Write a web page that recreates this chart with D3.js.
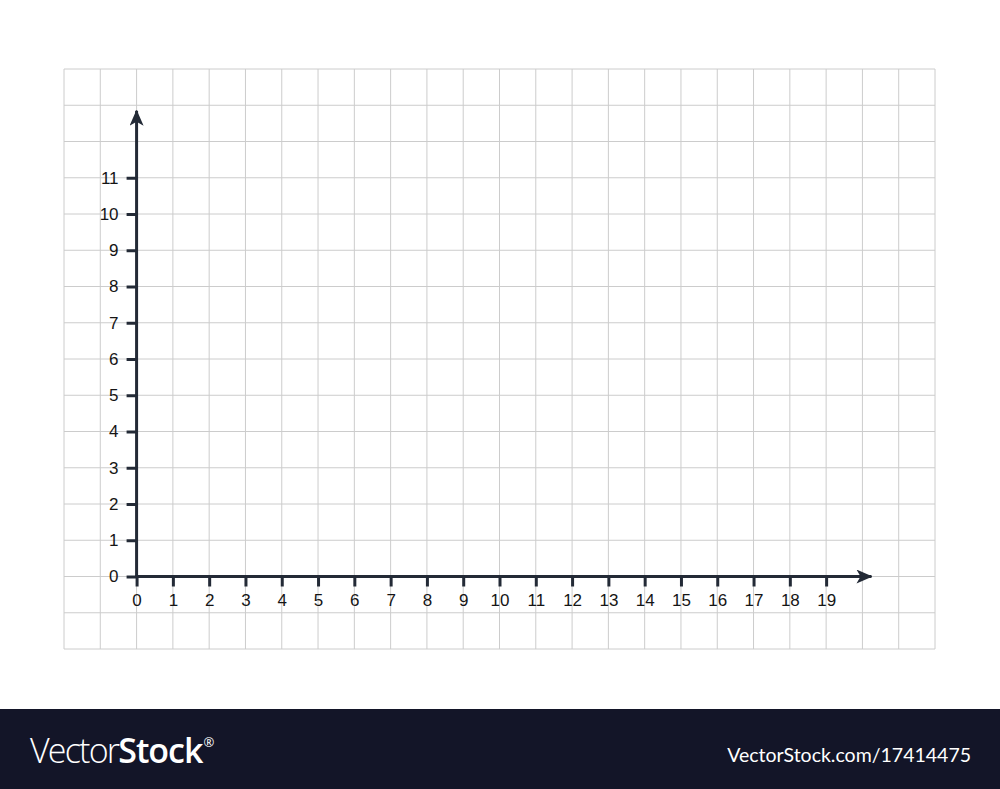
<!DOCTYPE html>
<html><head><meta charset="utf-8">
<script src="https://cdn.jsdelivr.net/npm/d3@7"></script>
<style>html,body{margin:0;padding:0;background:#fff;}svg{display:block;}</style>
</head><body>
<script>
// Data
const xTickValues = [0,1,2,3,4,5,6,7,8,9,10,11,12,13,14,15,16,17,18,19];
const yTickValues = [0,1,2,3,4,5,6,7,8,9,10,11];
const gridX = [-2,-1,0,1,2,3,4,5,6,7,8,9,10,11,12,13,14,15,16,17,18,19,20,21,22];
const gridY = [-2,-1,0,1,2,3,4,5,6,7,8,9,10,11,12,13,14];
const xAxisEnd = 20.25;
const yAxisEnd = 12.85;
const brandLeft = ["Vector","Stock","®"];
const brandRight = "VectorStock.com/17414475";

const W = 1000, H = 789;
const svg = d3.select("body").append("svg").attr("width", W).attr("height", H);

const x = d3.scaleLinear().domain([-2, 22]).range([64, 935]);
const y = d3.scaleLinear().domain([-2, 14]).range([649, 69]);

const axisColor = "#232a36";
const gridColor = "#cccccc";

// grid
const g = svg.append("g");
g.selectAll("line.v").data(gridX).join("line")
  .attr("x1", d => x(d)).attr("x2", d => x(d))
  .attr("y1", y(-2)).attr("y2", y(14))
  .attr("stroke", gridColor).attr("stroke-width", 1);
g.selectAll("line.h").data(gridY).join("line")
  .attr("y1", d => y(d)).attr("y2", d => y(d))
  .attr("x1", x(-2)).attr("x2", x(22))
  .attr("stroke", gridColor).attr("stroke-width", 1);

// arrow marker
const defs = svg.append("defs");
defs.append("marker").attr("id","arr")
  .attr("viewBox","0 0 16 14").attr("refX",15).attr("refY",7)
  .attr("markerWidth",16).attr("markerHeight",14)
  .attr("markerUnits","userSpaceOnUse").attr("orient","auto")
  .append("path").attr("d","M0,0 L16,7 L0,14 L4,7 Z").attr("fill",axisColor);

// x axis
const xAxis = d3.axisBottom(x).tickValues(xTickValues).tickSize(10).tickPadding(7).tickFormat(d3.format("d"));
const xg = svg.append("g").attr("transform", `translate(0,${y(0)})`).call(xAxis);
xg.select(".domain").remove();
xg.append("line").attr("x1", x(0)-1.5).attr("x2", x(xAxisEnd)).attr("y1",0).attr("y2",0)
  .attr("stroke", axisColor).attr("stroke-width", 3).attr("marker-end","url(#arr)");

// y axis
const yAxis = d3.axisLeft(y).tickValues(yTickValues).tickSize(10).tickPadding(8).tickFormat(d3.format("d"));
const yg = svg.append("g").attr("transform", `translate(${x(0)},0)`).call(yAxis);
yg.select(".domain").remove();
yg.append("line").attr("x1", 0).attr("x2", 0).attr("y1", y(0)+1.5).attr("y2", y(yAxisEnd))
  .attr("stroke", axisColor).attr("stroke-width", 3).attr("marker-end","url(#arr)");

[xg, yg].forEach(a => {
  a.attr("font-size", 17).attr("font-family", "'Liberation Sans', Arial, sans-serif");
  a.selectAll(".tick line").attr("stroke", axisColor).attr("stroke-width", 3);
  a.selectAll(".tick text").attr("fill", "#151515")
    .attr("font-family", "'Liberation Sans', Arial, sans-serif").attr("font-size", 17);
});

// footer
svg.append("rect").attr("x",0).attr("y",709).attr("width",W).attr("height",H-709).attr("fill","#131528");
const t = svg.append("text").attr("x",30).attr("y",763)
  .attr("font-family","'Open Sans', Lato, sans-serif").attr("font-size",34).attr("fill","#fff");
t.append("tspan").attr("font-weight",300).attr("letter-spacing",-1.8).text(brandLeft[0]);
t.append("tspan").attr("font-weight",600).attr("letter-spacing",-1).text(brandLeft[1]);
t.append("tspan").attr("font-size",13).attr("dy",-16).attr("dx",1).attr("font-weight",400).text(brandLeft[2]);
svg.append("text").attr("x",971).attr("y",762).attr("text-anchor","end")
  .attr("font-family","Lato, 'Open Sans', sans-serif").attr("font-size",19.5).attr("fill","#fff")
  .text(brandRight);
</script>
</body></html>
